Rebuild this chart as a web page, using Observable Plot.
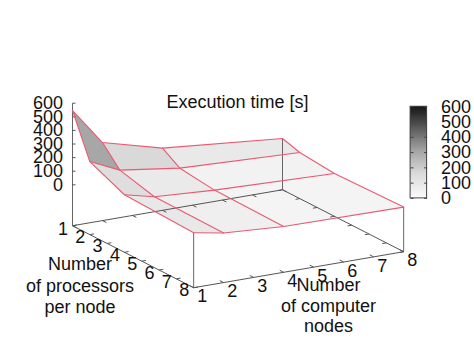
<!DOCTYPE html>
<html><head><meta charset="utf-8">
<style>html,body{margin:0;padding:0;background:#fff}svg{display:block}</style>
<script src="https://cdn.jsdelivr.net/npm/d3@7"></script>
<script src="https://cdn.jsdelivr.net/npm/@observablehq/plot@0.6"></script>
</head><body><div id="c"></div><script>
// Sampled grid
const nodes = [1, 2, 4, 8];
const procs = [1, 2, 4, 8];
// execution time [s], one row per processors-per-node value, columns by node count
const timeP1 = [546, 273, 156, 76];
const timeP2 = [236, 135, 74, 38];
const timeP4 = [122, 70, 43, 14];
const timeP8 = [103, 63, 36, 27];
const times = [timeP1, timeP2, timeP4, timeP8];
const zTicks = [0, 100, 200, 300, 400, 500, 600];
const axisTicks = [1, 2, 3, 4, 5, 6, 7, 8];
const title = "Execution time [s]";
const procLabel = ["Number", "of processors", "per node"];
const nodeLabel = ["Number", "of computer", "nodes"];
const colorDomain = [0, 150, 300, 600];
const colorRange = ["#fafafa", "#dcdcdc", "#a6a6a6", "#141414"];

// oblique projection of (nodes, procs, time) onto plot coordinates:
// u counts node steps, v is measured in seconds
const uP = 0.577, vN = 37.8, vP = -65.1, base = -301;
const U = (n, p) => (n - 1) + uP * (p - 1);
const V = (n, p, t) => t + vN * (n - 1) + vP * (p - 1);
// a point on the colour box: its own offset and stretch
const barU = (k) => 11.27 + k * 0.55;
const barV = (t) => 1.123 * t - 100;

const W = 474, H = 355;
const at = (n, p, t) => ({u: U(n, p), v: V(n, p, t)});

// facets, painted back to front
const cells = [];
for (let j = 0; j < 3; j++) for (let i = 2; i >= 0; i--) {
  const corners = [[i, j], [i + 1, j], [i + 1, j + 1], [i, j + 1]];
  const mean = d3.mean(corners, ([a, b]) => times[b][a]);
  for (const [a, b] of corners) cells.push({...at(nodes[a], procs[b], times[b][a]), cell: `${i}-${j}`, mean});
}

const rows = procs.flatMap((p, j) => nodes.map((n, i) => ({...at(n, p, times[j][i]), g: `p${p}`})));
const cols = nodes.flatMap((n, i) => procs.map((p, j) => ({...at(n, p, times[j][i]), g: `n${n}`})));

const edge = (a, b, c, d) => ({x1: U(a, b), y1: V(a, b, base), x2: U(c, d), y2: V(c, d, base)});
const floorEdges = [edge(1, 1, 8, 1), edge(8, 1, 8, 8), edge(8, 8, 1, 8), edge(1, 8, 1, 1)];
const upright = [
  {x1: U(1, 1), y1: V(1, 1, base), x2: U(1, 1), y2: V(1, 1, 600)},
  {x1: U(8, 1), y1: V(8, 1, base), x2: U(8, 1), y2: V(8, 1, times[0][3])},
  {x1: U(8, 8), y1: V(8, 8, base), x2: U(8, 8), y2: V(8, 8, times[3][3])},
  {x1: U(1, 8), y1: V(1, 8, base), x2: U(1, 8), y2: V(1, 8, times[3][0])}
];
const tickLen = 0.14;
const floorTicks = [
  ...axisTicks.map(n => edge(n, 1, n, 1 + tickLen * 1.6)),
  ...axisTicks.map(n => edge(n, 8, n, 8 - tickLen * 1.6)),
  ...axisTicks.map(p => edge(1, p, 1 + tickLen, p)),
  ...axisTicks.map(p => edge(8, p, 8 - tickLen, p))
];
const zTickLines = zTicks.map(t => ({x1: U(1, 1), x2: U(1, 1) + 0.1, y1: V(1, 1, t), y2: V(1, 1, t)}));

// colour box
const barSteps = d3.range(0, 600, 6);
const barRects = barSteps.map(t => ({x1: barU(0), x2: barU(1), y1: barV(t), y2: barV(t + 6), t}));
const barTicks = zTicks.flatMap(t => [
  {x1: barU(0), x2: barU(0) + 0.1, y1: barV(t), y2: barV(t)},
  {x1: barU(1), x2: barU(1) - 0.1, y1: barV(t), y2: barV(t)}
]);

const textOpts = {fontSize: 18, fill: "#111", stroke: null};
const lineOpts = {x1: "x1", y1: "y1", x2: "x2", y2: "y2", strokeWidth: 1};
const labelAt = (lines, dx, dys) => lines.map((line, i) =>
  Plot.text([line], {x: U(1, 1), y: V(1, 1, base), text: d => d, dx, dy: dys[i], ...textOpts}));

const chart = Plot.plot({
  width: W, height: H,
  margin: 0,
  style: {background: "#fff", fontFamily: "'Liberation Sans', Arial, sans-serif"},
  x: {type: "linear", domain: [-72 / 30, (W - 72) / 30], range: [0, W], axis: null},
  y: {type: "linear", domain: [184.3 / 0.136, (184.3 - H) / 0.136], range: [0, H], axis: null},
  color: {type: "linear", domain: colorDomain, range: colorRange, interpolate: "rgb", clamp: true},
  marks: [
    Plot.line(cells, {x: "u", y: "v", z: "cell", fill: "mean", stroke: null}),
    Plot.link(floorEdges, {...lineOpts, stroke: "#555"}),
    Plot.link(upright, {...lineOpts, stroke: "#666"}),
    Plot.link(floorTicks, {...lineOpts, stroke: "#555"}),
    Plot.link(zTickLines, {...lineOpts, stroke: "#555"}),
    Plot.line(rows, {x: "u", y: "v", z: "g", stroke: "#e85a72", strokeWidth: 1.1}),
    Plot.line(cols, {x: "u", y: "v", z: "g", stroke: "#e85a72", strokeWidth: 1.1}),
    // colour box
    Plot.rect(barRects, {x1: "x1", x2: "x2", y1: "y1", y2: "y2", fill: "t", shapeRendering: "crispEdges"}),
    Plot.rect([{x1: barU(0), x2: barU(1), y1: barV(0), y2: barV(600)}], {x1: "x1", x2: "x2", y1: "y1", y2: "y2", fill: "none", stroke: "#444", strokeWidth: 1}),
    Plot.link(barTicks, {...lineOpts, stroke: "#444"}),
    Plot.text(zTicks, {x: () => barU(1), y: d => barV(d), text: d => String(d), dx: 14, textAnchor: "start", ...textOpts}),
    // axis labels
    Plot.text(zTicks, {x: () => U(1, 1), y: d => V(1, 1, d), text: d => String(d), dx: -9.5, textAnchor: "end", ...textOpts}),
    Plot.text(axisTicks, {x: p => U(1, p), y: p => V(1, p, base), text: d => String(d), dx: -9.5, dy: 3, ...textOpts}),
    Plot.text(axisTicks, {x: n => U(n, 8), y: n => V(n, 8, base), text: d => String(d), dx: 8.5, dy: 9, ...textOpts}),
    Plot.text([title], {x: U(1, 1) + 5.5, y: V(1, 1, 600), text: d => d, dy: -1, ...textOpts}),
    ...labelAt(procLabel, 7.5, [38, 60, 81]),
    ...labelAt(nodeLabel, 256, [59, 80, 100])
  ]
});
document.getElementById("c").appendChild(chart);
</script></body></html>
